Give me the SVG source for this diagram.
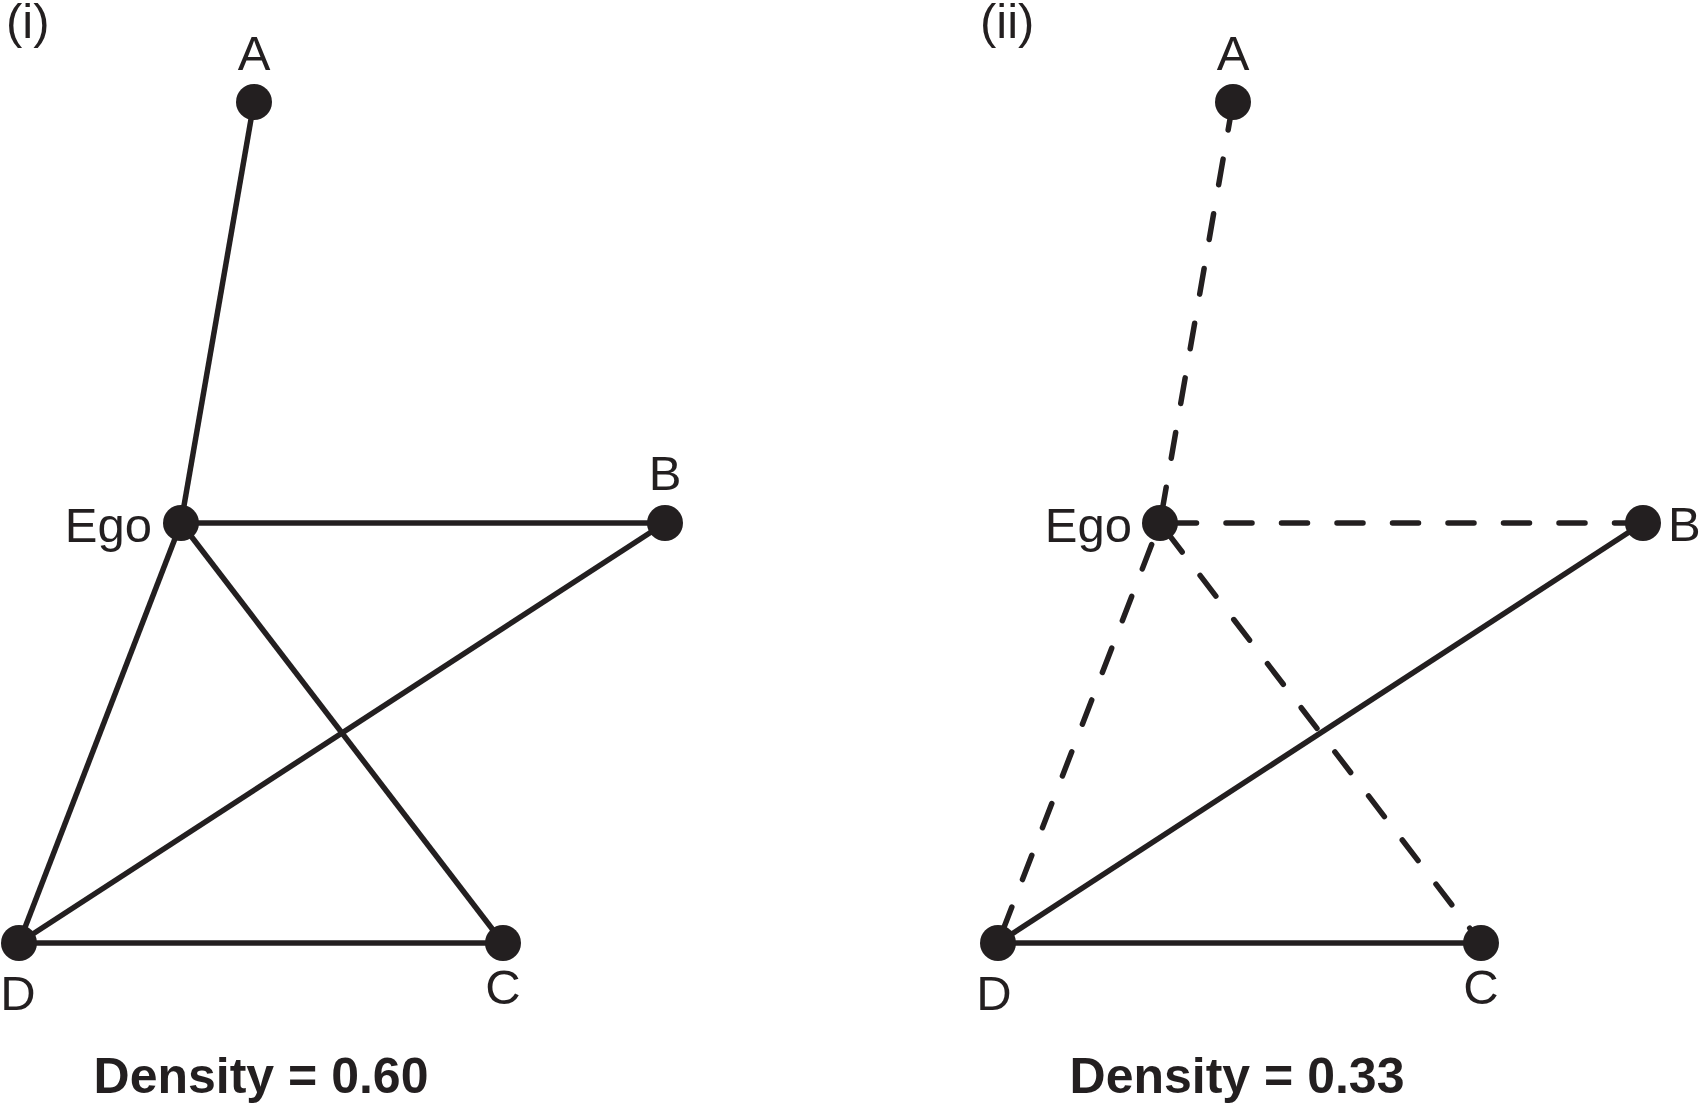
<svg xmlns="http://www.w3.org/2000/svg" width="1700" height="1104" viewBox="0 0 1700 1104">
<style>
.e{stroke:#231f20;stroke-width:5.5;fill:none}
.d{stroke:#231f20;stroke-width:5.5;fill:none;stroke-linecap:round;stroke-dasharray:26 29.5}
.n{fill:#231f20}
.t{font-family:"Liberation Sans",Arial,sans-serif;font-size:49px;fill:#231f20}
.b{font-family:"Liberation Sans",Arial,sans-serif;font-size:50px;font-weight:bold;fill:#231f20;text-anchor:middle}
</style>
<rect width="1700" height="1104" fill="#fff"/>
<text class="t" x="6" y="38">(i)</text>
<text class="t" x="980" y="38">(ii)</text>
<g id="connectors">
<line class="e" x1="254" y1="102" x2="181" y2="523"/>
<line class="e" x1="181" y1="523" x2="665" y2="523"/>
<line class="e" x1="181" y1="523" x2="19" y2="943"/>
<line class="e" x1="181" y1="523" x2="503" y2="943"/>
<line class="e" x1="665" y1="523" x2="19" y2="943"/>
<line class="e" x1="19" y1="943" x2="503" y2="943"/>
<line class="d" x1="1233" y1="102" x2="1160" y2="523" stroke-dashoffset="53"/>
<line class="d" x1="1643" y1="523" x2="1160" y2="523" stroke-dashoffset="53"/>
<line class="d" x1="998" y1="943" x2="1160" y2="523" stroke-dashoffset="43"/>
<line class="d" x1="1160" y1="523" x2="1481" y2="943" stroke-dashoffset="45"/>
<line class="e" x1="1643" y1="523" x2="998" y2="943"/>
<line class="e" x1="998" y1="943" x2="1481" y2="943"/>
</g>
<g id="i-A"><circle class="n" cx="254" cy="102" r="18"/><text class="t" x="254" y="70" text-anchor="middle">A</text></g>
<g id="i-Ego"><circle class="n" cx="181" cy="523" r="18"/><text class="t" x="152" y="542" text-anchor="end">Ego</text></g>
<g id="i-B"><circle class="n" cx="665" cy="523" r="18"/><text class="t" x="665" y="490" text-anchor="middle">B</text></g>
<g id="i-D"><circle class="n" cx="19" cy="943" r="18"/><text class="t" x="18" y="1010" text-anchor="middle">D</text></g>
<g id="i-C"><circle class="n" cx="503" cy="943" r="18"/><text class="t" x="503" y="1004" text-anchor="middle">C</text></g>
<g id="ii-A"><circle class="n" cx="1233" cy="102" r="18"/><text class="t" x="1233" y="70" text-anchor="middle">A</text></g>
<g id="ii-Ego"><circle class="n" cx="1160" cy="523" r="18"/><text class="t" x="1132" y="542" text-anchor="end">Ego</text></g>
<g id="ii-B"><circle class="n" cx="1643" cy="523" r="18"/><text class="t" x="1668" y="541">B</text></g>
<g id="ii-D"><circle class="n" cx="998" cy="943" r="18"/><text class="t" x="994" y="1010" text-anchor="middle">D</text></g>
<g id="ii-C"><circle class="n" cx="1481" cy="943" r="18"/><text class="t" x="1481" y="1004" text-anchor="middle">C</text></g>
<text class="b" x="261" y="1093">Density = 0.60</text>
<text class="b" x="1237" y="1093">Density = 0.33</text>
</svg>
